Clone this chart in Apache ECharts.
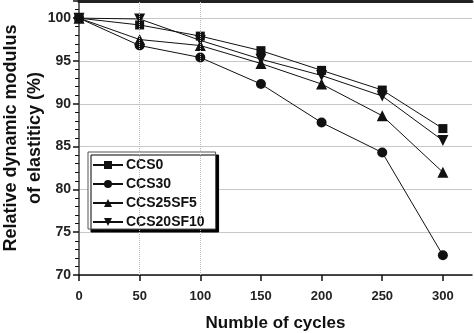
<!DOCTYPE html>
<html>
<head>
<meta charset="utf-8">
<script src="https://cdn.jsdelivr.net/npm/echarts@6/dist/echarts.min.js"></script>
<style>
  html, body { margin: 0; padding: 0; background: #fff; }
  #chart { width: 474px; height: 333px; }
</style>
</head>
<body>
<div id="chart"></div>
<script>
// Freeze-thaw durability: relative dynamic modulus vs. number of cycles
const cycles = [0, 50, 100, 150, 200, 250, 300];
const ccs0 = [100, 99.2, 97.9, 96.2, 93.9, 91.6, 87.1];
const ccs30 = [100, 96.8, 95.4, 92.3, 87.8, 84.3, 72.3];
const ccs25sf5 = [100, 97.5, 96.8, 94.7, 92.3, 88.6, 82.0];
const ccs20sf10 = [100, 99.9, 97.4, 95.2, 93.3, 90.9, 85.7];
const seriesNames = ['CCS0', 'CCS30', 'CCS25SF5', 'CCS20SF10'];
const guideCycles = [50, 100];

const font = 'Liberation Sans, Arial, sans-serif';
const pair = (ys) => cycles.map((x, i) => [x, ys[i]]);

function lineSeries(name, ys, symbol, size) {
  return {
    name, type: 'line', data: pair(ys),
    symbol, symbolSize: size,
    lineStyle: { color: '#111', width: 1 },
    itemStyle: { color: '#111' },
    z: 3
  };
}

const chart = echarts.init(document.getElementById('chart'), null, { renderer: 'canvas' });
chart.setOption({
  animation: false,
  backgroundColor: '#fff',
  grid: { left: 79, right: 2, top: 1, bottom: 58, outerBoundsMode: 'none', containLabel: false },
  legend: {
    orient: 'vertical',
    left: 88, top: 152,
    padding: [6, 11, 0, 4],
    itemWidth: 30, itemHeight: 10, itemGap: 5,
    backgroundColor: '#fff',
    borderColor: '#555', borderWidth: 1,
    shadowColor: '#000', shadowBlur: 0, shadowOffsetX: 3, shadowOffsetY: 3,
    textStyle: { fontFamily: font, fontWeight: 'bold', fontSize: 14, color: '#111', padding: [0, 0, 0, -2] },
    data: seriesNames
  },
  xAxis: [{
    type: 'value', min: 0, max: 324, interval: 50,
    name: 'Numble of cycles', nameLocation: 'middle', nameGap: 40, nameMoveOverlap: false,
    nameTextStyle: { fontFamily: font, fontWeight: 'bold', fontSize: 17, color: '#111' },
    axisLine: { lineStyle: { color: '#111', width: 1.5 } },
    axisTick: { inside: false, length: 6, lineStyle: { color: '#111', width: 1.5 } },
    axisLabel: { showMaxLabel: false, fontFamily: font, fontWeight: 'bold', fontSize: 13, color: '#222', margin: 15 },
    splitLine: { show: false }
  }, {
    type: 'value', position: 'top', min: 0, max: 324,
    axisLine: { lineStyle: { color: '#222', width: 3 } },
    axisTick: { show: false }, axisLabel: { show: false }, splitLine: { show: false }
  }],
  yAxis: [{
    type: 'value', min: 70, max: 102, interval: 5,
    name: 'Relative dynamic modulus\nof elastiticy (%)', nameLocation: 'middle', nameGap: 32,
    nameRotate: 90, nameMoveOverlap: false,
    nameTextStyle: { fontFamily: font, fontWeight: 'bold', fontSize: 18, color: '#111', lineHeight: 24 },
    axisLine: { show: true, lineStyle: { color: '#111', width: 2 } },
    axisTick: { inside: false, length: 6, lineStyle: { color: '#111', width: 1.5 } },
    minorTick: { show: true, splitNumber: 5, length: 4, lineStyle: { color: '#111', width: 1 } },
    axisLabel: { showMaxLabel: false, fontFamily: font, fontWeight: 'bold', fontSize: 14, color: '#222', margin: 8 },
    splitLine: { show: true, lineStyle: { color: '#c8c8c8', width: 1 } }
  }, {
    type: 'value', position: 'right', min: 70, max: 102,
    axisLine: { show: true, lineStyle: { color: '#888', width: 1.5 } },
    axisTick: { show: false }, axisLabel: { show: false }, splitLine: { show: false }
  }],
  series: [
    Object.assign(lineSeries('CCS0', ccs0, 'rect', 9), {
      markLine: {
        silent: true, symbol: 'none', label: { show: false },
        lineStyle: { color: '#bbb', type: 'dotted', width: 1 },
        data: guideCycles.map(v => ({ xAxis: v }))
      }
    }),
    lineSeries('CCS30', ccs30, 'circle', 10),
    lineSeries('CCS25SF5', ccs25sf5, 'triangle', 11),
    Object.assign(lineSeries('CCS20SF10', ccs20sf10, 'triangle', 11), { symbolRotate: 180 })
  ]
});
</script>
</body>
</html>
